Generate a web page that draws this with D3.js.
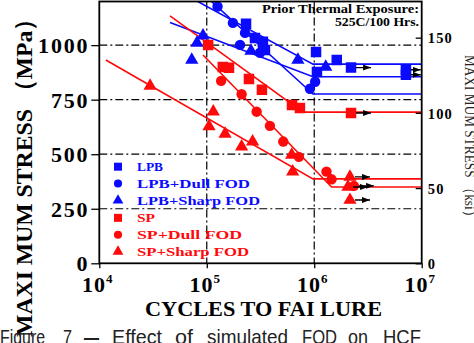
<!DOCTYPE html>
<html><head><meta charset="utf-8">
<script src="https://cdn.jsdelivr.net/npm/d3@7"></script>
<style>
html,body{margin:0;padding:0;background:#fff;overflow:hidden}
svg{display:block}
</style></head><body>
<svg id="chart" width="474" height="343"></svg>
<script>
// ---- data: [cycles to failure, maximum stress (MPa), runout flag] ----
const lpb      = [[2.32e5,1098],[2.81e5,1033],[3.33e5,1015],[3.48e5,978],[1.04e6,969],[1.06e6,877],[1.62e6,932],[2.20e6,897,1],[7.13e6,887,1],[7.13e6,864,1]];
const lpbDull  = [[1.26e5,1177],[1.75e5,1102],[2.27e5,1056],[2.04e5,1001],[3.13e5,965],[3.33e5,992],[9.12e5,800],[1.02e6,832]];
const lpbSharp = [[9.23e4,1043],[8.11e4,1010],[7.25e4,932],[2.58e5,974],[7.05e5,932],[1.28e6,900]];
const sp       = [[1.03e5,1001],[1.41e5,900],[1.61e5,896],[2.47e5,845],[3.26e5,795],[6.21e5,726],[7.36e5,712],[2.20e6,689,1]];
const spDull   = [[1.36e5,836],[2.11e5,775],[2.91e5,695],[3.87e5,630],[5.15e5,558],[7.20e5,488],[1.30e6,420],[1.45e6,385],[2.34e6,355,1]];
const spSharp  = [[2.97e4,813],[1.15e5,695],[1.05e5,627],[1.48e5,593],[2.11e5,535],[2.67e5,558],[6.17e5,497],[6.30e5,420],[2.15e6,396,1],[2.06e6,350,1],[2.15e6,290,1]];

// fitted S-N curves (sloped part, knee, endurance plateau)
const lpbFit      = [[7.76e4,1207],[9.73e5,913],[1e7,913]];
const lpbSharpFit = [[4.55e4,1104],[9.73e5,855],[1e7,855]];
const lpbDullFit  = [[1.07e5,1207],[9.73e5,776],[1e7,776]];
const spFit       = [[4.55e4,1134],[7.85e5,693],[1e7,693]];
const spDullFit   = [[9.23e4,955],[1.45e6,350],[1e7,350]];
const spSharpFit  = [[1.15e4,932],[9.73e5,387],[1e7,387]];

// axes
const stressTicks = [0,250,500,750,1000];
const cycleTicks  = [1e4,1e5,1e6,1e7];
const ksiTicks    = [0,50,100,150];
const gridStress  = [250,500,750,1000];
const gridCycles  = [1e5,1e6];
const legendNames = ["LPB","LPB+Dull FOD","LPB+Sharp FOD","SP","SP+Dull FOD","SP+Sharp FOD"];
const captionWords = ["Figure","7","–","Effect","of","simulated","FOD","on","HCF"];
const MPA_PER_KSI = 6.895;

const BLUE="#0a0aff", RED="#ff0a0a";
const serif="'Liberation Serif','Times New Roman',serif";

const svg=d3.select("#chart");
const X0=99.3,X1=421.7,Y0=263.3,Y1=1.5;
const x=d3.scaleLog().domain([1e4,1e7]).range([X0,X1]);
const y=d3.scaleLinear().domain([0,1200]).range([Y0,Y1]);
const yk=d3.scaleLinear().domain([0,1200/MPA_PER_KSI]).range([Y0,Y1]);

svg.append("rect").attr("width",474).attr("height",343).attr("fill","#fff");
const defs=svg.append("defs");
defs.append("clipPath").attr("id","plot").append("rect")
  .attr("x",X0).attr("y",Y1).attr("width",X1-X0).attr("height",Y0-Y1);
defs.append("marker").attr("id","arr").attr("viewBox","0 0 8 6")
  .attr("refX",8).attr("refY",3).attr("markerWidth",8).attr("markerHeight",6)
  .attr("markerUnits","userSpaceOnUse").attr("orient","auto")
  .append("path").attr("d","M0,0L8,3L0,6z").attr("fill","#000");

// dash-dot grid
const grid=svg.append("g").attr("stroke","#000").attr("stroke-width",1.2).attr("stroke-dasharray","8,3,2,3");
grid.selectAll(".h").data(gridStress).join("line")
  .attr("x1",X0).attr("x2",X1).attr("y1",d=>y(d)).attr("y2",d=>y(d));
grid.selectAll(".v").data(gridCycles).join("line")
  .attr("x1",d=>x(d)).attr("x2",d=>x(d)).attr("y1",Y1).attr("y2",Y0);

// header note
svg.append("text").attr("x",419).attr("y",13).attr("text-anchor","end")
  .attr("font-family",serif).attr("font-weight","bold").attr("font-size",12)
  .attr("textLength",157).attr("lengthAdjust","spacingAndGlyphs").text("Prior Thermal Exposure:");
svg.append("text").attr("x",419).attr("y",26).attr("text-anchor","end")
  .attr("font-family",serif).attr("font-weight","bold").attr("font-size",12)
  .attr("textLength",84).attr("lengthAdjust","spacingAndGlyphs").text("525C/100 Hrs.");

// fitted curves
const line=d3.line().x(d=>x(d[0])).y(d=>y(d[1]));
const fits=[[lpbFit,BLUE],[lpbSharpFit,BLUE],[lpbDullFit,BLUE],[spFit,RED],[spDullFit,RED],[spSharpFit,RED]];
const fg=svg.append("g").attr("clip-path","url(#plot)");
fits.forEach(([d,c])=>fg.append("path").attr("d",line(d)).attr("fill","none").attr("stroke",c).attr("stroke-width",1.6));

// data points
const series=[
  [lpb,BLUE,d3.symbolSquare,110],[lpbDull,BLUE,d3.symbolCircle,85],[lpbSharp,BLUE,d3.symbolTriangle,76],
  [sp,RED,d3.symbolSquare,110],[spDull,RED,d3.symbolCircle,85],[spSharp,RED,d3.symbolTriangle,76]];
const pg=svg.append("g").attr("clip-path","url(#plot)");
series.forEach(([d,c,sym,sz])=>{
  pg.selectAll(null).data(d).join("path")
    .attr("transform",p=>`translate(${x(p[0])},${y(p[1])})`)
    .attr("d",d3.symbol().type(sym).size(sz)).attr("fill",c);
});
// runout arrows
const runouts=series.flatMap(s=>s[0].filter(p=>p[2]));
pg.selectAll(null).data(runouts).join("line")
  .attr("x1",p=>x(p[0])+5).attr("x2",p=>Math.min(x(p[0])+20,X1-1))
  .attr("y1",p=>y(p[1])).attr("y2",p=>y(p[1]))
  .attr("stroke","#000").attr("stroke-width",1.4).attr("marker-end","url(#arr)");

// legend
const legendSyms=series.map(s=>[s[1],s[2]]);
const legendLens=[26,113,123,18,105,112];
const lg=svg.append("g");
legendNames.forEach((name,i)=>{
  const cy=166.7+i*16.85+(i>=3?0.6:0);
  const [c,sym]=legendSyms[i];
  lg.append("path").attr("transform",`translate(118,${cy})`)
    .attr("d",d3.symbol().type(sym).size(sym===d3.symbolSquare?64:sym===d3.symbolCircle?52:50)).attr("fill",c);
  lg.append("text").attr("x",137).attr("y",cy+4.5).attr("fill",c)
    .attr("font-family",serif).attr("font-weight","bold").attr("font-size",13.5)
    .attr("textLength",legendLens[i]).attr("lengthAdjust","spacingAndGlyphs").text(name);
});

// left axis
const la=svg.append("g").attr("transform",`translate(${X0},0)`);
la.call(d3.axisLeft(y).tickValues(d3.range(0,1201,50)).tickSize(4).tickFormat(""));
la.call(d3.axisLeft(y).tickValues(stressTicks).tickSize(8).tickPadding(2).tickFormat(d3.format("d")));
la.selectAll("path.domain").remove();
la.selectAll("line").attr("stroke","#000").attr("stroke-width",1.3);
la.selectAll("text").attr("font-family",serif).attr("font-weight","bold").attr("font-size",22)
  .attr("letter-spacing",1.8).attr("fill","#000").attr("dy","0.34em");

// bottom axis
const minor=[];
for(let e=4;e<7;e++) for(let k=2;k<10;k++) minor.push(k*Math.pow(10,e));
const ba=svg.append("g").attr("transform",`translate(0,${Y0})`);
ba.call(d3.axisBottom(x).tickValues(minor).tickSize(-5).tickFormat(""));
ba.call(d3.axisBottom(x).tickValues(cycleTicks).tickSize(5).tickFormat(""));
ba.selectAll("path.domain").remove();
ba.selectAll("line").attr("stroke","#000").attr("stroke-width",1.3);
const bl=svg.append("g");
cycleTicks.forEach(v=>{
  const t=bl.append("text").attr("x",x(v)-2).attr("y",292).attr("text-anchor","middle")
    .attr("font-family",serif).attr("font-weight","bold").attr("fill","#000");
  t.append("tspan").attr("font-size",22).attr("letter-spacing",1).text("10");
  t.append("tspan").attr("font-size",13).attr("dy",-9).text(Math.round(Math.log10(v)));
});

// right axis (ksi)
const ra=svg.append("g").attr("transform",`translate(${X1},0)`);
ra.call(d3.axisRight(yk).tickValues(d3.range(0,175,10)).tickSize(-4).tickFormat(""));
ra.call(d3.axisRight(yk).tickValues(ksiTicks).tickSize(-6).tickPadding(6));
ra.selectAll("path.domain").remove();
ra.selectAll("line").attr("stroke","#000").attr("stroke-width",1.3);
ra.selectAll("text").attr("font-family",serif).attr("font-weight","bold").attr("font-size",14.5)
  .attr("letter-spacing",1.2).attr("fill","#000").attr("dy","0.36em");

// frame
svg.append("rect").attr("x",X0).attr("y",Y1).attr("width",X1-X0).attr("height",Y0-Y1)
  .attr("fill","none").attr("stroke","#000").attr("stroke-width",1.8);

// axis titles
svg.append("text").attr("transform","translate(32,172) rotate(-90)").attr("text-anchor","middle")
  .attr("font-family",serif).attr("font-weight","bold").attr("font-size",24).attr("fill","#000")
  .attr("textLength",330).attr("lengthAdjust","spacingAndGlyphs").text("MAXI MUM STRESS （MPa）");
svg.append("text").attr("transform","translate(465,139) rotate(90)").attr("text-anchor","middle")
  .attr("font-family",serif).attr("font-size",14).attr("fill","#222")
  .attr("textLength",168).attr("lengthAdjust","spacingAndGlyphs").text("MAXI MUM STRESS （ksi）");
svg.append("text").attr("x",145).attr("y",316)
  .attr("font-family",serif).attr("font-weight","bold").attr("font-size",22).attr("fill","#000")
  .attr("textLength",237).attr("lengthAdjust","spacingAndGlyphs").text("CYCLES  TO FAI LURE");

// caption, word by word
const captionX=[0,63,83,112,175,207,302,348,383];
const captionW=[45,9,17,50,18,81,35,20,38];
const cg=svg.append("g").attr("font-family","'Liberation Sans',Arial,sans-serif").attr("font-size",21).attr("fill","#222");
captionWords.forEach((w,i)=>cg.append("text").attr("x",captionX[i]).attr("y",344)
  .attr("font-weight",w==="–"?"bold":null)
  .attr("textLength",captionW[i]).attr("lengthAdjust","spacingAndGlyphs").text(w));
</script>
</body></html>
